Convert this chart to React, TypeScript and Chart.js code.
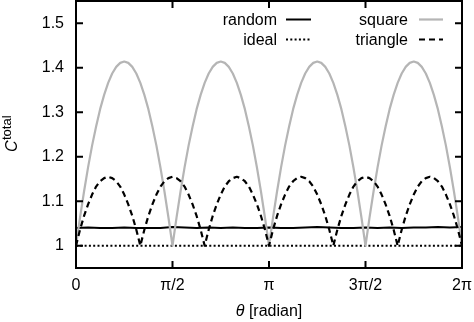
import { useEffect, useRef } from "react";
import { Chart, registerables } from "chart.js";

Chart.register(...registerables);

// ---------- data ----------
const X_TICK_VALUES = [0, Math.PI / 2, Math.PI, (3 * Math.PI) / 2, 2 * Math.PI];
const X_TICK_LABELS = ["0", "π/2", "π", "3π/2", "2π"];
const Y_TICK_VALUES = [1, 1.1, 1.2, 1.3, 1.4, 1.5];
const Y_TICK_LABELS = ["1", "1.1", "1.2", "1.3", "1.4", "1.5"];

const SERIES_LABELS = ["random", "ideal", "square", "triangle"];

// sample spacing (radian) of the square / triangle curves and of the random curve
const FINE_STEP = Math.PI / 48;
const RANDOM_STEP = Math.PI / 16;

const SQUARE = [
  1.000, 1.063, 1.122, 1.176, 1.225, 1.268, 1.307, 1.339, 1.366, 1.387, 1.402, 1.411,
  1.414, 1.411, 1.402, 1.387, 1.366, 1.339, 1.307, 1.268, 1.225, 1.176, 1.122, 1.063,
  1.000, 1.063, 1.122, 1.176, 1.225, 1.268, 1.307, 1.339, 1.366, 1.387, 1.402, 1.411,
  1.414, 1.411, 1.402, 1.387, 1.366, 1.339, 1.307, 1.268, 1.225, 1.176, 1.122, 1.063,
  1.000, 1.063, 1.122, 1.176, 1.225, 1.268, 1.307, 1.339, 1.366, 1.387, 1.402, 1.411,
  1.414, 1.411, 1.402, 1.387, 1.366, 1.339, 1.307, 1.268, 1.225, 1.176, 1.122, 1.063,
  1.000, 1.063, 1.122, 1.176, 1.225, 1.268, 1.307, 1.339, 1.366, 1.387, 1.402, 1.411,
  1.414, 1.411, 1.402, 1.387, 1.366, 1.339, 1.307, 1.268, 1.225, 1.176, 1.122, 1.063,
  1.000,
];

const TRIANGLE = [
  1.000, 1.036, 1.067, 1.093, 1.115, 1.133, 1.145, 1.152, 1.155, 1.152, 1.145, 1.133, 1.115, 1.093, 1.067, 1.036,
  1.000, 1.036, 1.067, 1.093, 1.115, 1.133, 1.145, 1.152, 1.155, 1.152, 1.145, 1.133, 1.115, 1.093, 1.067, 1.036,
  1.000, 1.036, 1.067, 1.093, 1.115, 1.133, 1.145, 1.152, 1.155, 1.152, 1.145, 1.133, 1.115, 1.093, 1.067, 1.036,
  1.000, 1.036, 1.067, 1.093, 1.115, 1.133, 1.145, 1.152, 1.155, 1.152, 1.145, 1.133, 1.115, 1.093, 1.067, 1.036,
  1.000, 1.036, 1.067, 1.093, 1.115, 1.133, 1.145, 1.152, 1.155, 1.152, 1.145, 1.133, 1.115, 1.093, 1.067, 1.036,
  1.000, 1.036, 1.067, 1.093, 1.115, 1.133, 1.145, 1.152, 1.155, 1.152, 1.145, 1.133, 1.115, 1.093, 1.067, 1.036,
  1.000,
];

const RANDOM = [
  1.040, 1.041, 1.040, 1.040, 1.041, 1.040, 1.040, 1.040, 1.042, 1.041, 1.040,
  1.041, 1.040, 1.041, 1.040, 1.040, 1.041, 1.040, 1.040, 1.041, 1.042, 1.041,
  1.040, 1.040, 1.041, 1.040, 1.041, 1.040, 1.041, 1.041, 1.042, 1.041, 1.042,
];

const IDEAL_THETA = [0, 2 * Math.PI];
const IDEAL = [1.0, 1.0];

// ---------- styles ----------
const FONT = "'Liberation Sans', Arial, Helvetica, sans-serif";
const GRAY = "#b5b5b5";
const STYLES = [
  { color: "#000", width: 2, dash: [] as number[] },
  { color: "#000", width: 2, dash: [2, 2.3] },
  { color: GRAY, width: 2.2, dash: [] as number[] },
  { color: "#000", width: 2.2, dash: [6, 4] },
];

const gnuplotPlugin = {
  id: "gnuplotDecor",
  afterDatasetsDraw(chart: any) {
    const { ctx, chartArea: a, scales } = chart;
    const xs = scales.x;
    const ys = scales.y;
    ctx.save();
    // frame
    ctx.strokeStyle = "#000";
    ctx.lineWidth = 2;
    ctx.setLineDash([]);
    ctx.strokeRect(a.left, a.top, a.right - a.left, a.bottom - a.top);
    // inward ticks, mirrored
    const tl = 7;
    ctx.lineWidth = 2;
    ctx.beginPath();
    for (const v of Y_TICK_VALUES) {
      const py = ys.getPixelForValue(v);
      ctx.moveTo(a.left, py);
      ctx.lineTo(a.left + tl, py);
      ctx.moveTo(a.right, py);
      ctx.lineTo(a.right - tl, py);
    }
    for (const v of X_TICK_VALUES) {
      const px = xs.getPixelForValue(v);
      ctx.moveTo(px, a.bottom);
      ctx.lineTo(px, a.bottom - tl);
      ctx.moveTo(px, a.top);
      ctx.lineTo(px, a.top + tl);
    }
    ctx.stroke();

    // legend (two columns, text right-aligned, sample to the right)
    ctx.font = `16px ${FONT}`;
    ctx.fillStyle = "#000";
    ctx.textAlign = "right";
    ctx.textBaseline = "middle";
    const cols = [
      { textRight: 277, x0: 286, x1: 311 },
      { textRight: 408, x0: 419, x1: 443 },
    ];
    const rows = [19.5, 39.5];
    SERIES_LABELS.forEach((lab, i) => {
      const c = cols[Math.floor(i / 2)];
      const y = rows[i % 2];
      const st = STYLES[i];
      ctx.fillText(lab, c.textRight, y + 1);
      ctx.beginPath();
      ctx.strokeStyle = st.color;
      ctx.lineWidth = st.width;
      ctx.setLineDash(st.dash);
      ctx.moveTo(c.x0, y);
      ctx.lineTo(c.x1, y);
      ctx.stroke();
    });
    ctx.setLineDash([]);

    // y-axis title: C^total (rotated)
    ctx.save();
    ctx.translate(17, 134);
    ctx.rotate(-Math.PI / 2);
    ctx.textAlign = "left";
    ctx.textBaseline = "alphabetic";
    ctx.font = `italic 16px ${FONT}`;
    const cw = ctx.measureText("C").width;
    ctx.font = `13px ${FONT}`;
    const tw = ctx.measureText("total").width;
    const start = -(cw + tw) / 2;
    ctx.font = `italic 16px ${FONT}`;
    ctx.fillText("C", start, 0);
    ctx.font = `13px ${FONT}`;
    ctx.fillText("total", start + cw + 0.5, -6);
    ctx.restore();

    // x-axis title: θ [radian]
    ctx.textBaseline = "alphabetic";
    ctx.textAlign = "left";
    ctx.font = `italic 16px ${FONT}`;
    const thw = ctx.measureText("θ").width;
    ctx.font = `16px ${FONT}`;
    const rw = ctx.measureText(" [radian]").width;
    const cx = (a.left + a.right) / 2;
    const sx = cx - (thw + rw) / 2;
    ctx.font = `italic 16px ${FONT}`;
    ctx.fillText("θ", sx, 316);
    ctx.font = `16px ${FONT}`;
    ctx.fillText(" [radian]", sx + thw, 316);
    ctx.restore();
  },
};

function toPoints(values: number[], step: number) {
  return values.map((y, i) => ({ x: i * step, y }));
}

export default function App() {
  const canvasRef = useRef<HTMLCanvasElement | null>(null);

  useEffect(() => {
    document.body.style.margin = "0";
    const canvas = canvasRef.current;
    if (!canvas) return;
    const mk = (i: number, data: { x: number; y: number }[], order: number) => ({
      label: SERIES_LABELS[i],
      data,
      borderColor: STYLES[i].color,
      borderWidth: STYLES[i].width,
      borderDash: STYLES[i].dash,
      borderJoinStyle: "round" as const,
      pointRadius: 0,
      tension: 0,
      fill: false,
      order,
    });
    const chart = new Chart(canvas, {
      type: "line",
      data: {
        datasets: [
          mk(0, toPoints(RANDOM, RANDOM_STEP), 4),
          mk(1, IDEAL.map((y, i) => ({ x: IDEAL_THETA[i], y })), 3),
          mk(2, toPoints(SQUARE, FINE_STEP), 2),
          mk(3, toPoints(TRIANGLE, FINE_STEP), 1),
        ] as any,
      },
      options: {
        animation: false,
        responsive: true,
        maintainAspectRatio: false,
        layout: { padding: { top: 1, right: 12, left: 0, bottom: 0 } },
        plugins: { legend: { display: false }, tooltip: { enabled: false } },
        scales: {
          x: {
            type: "linear",
            min: 0,
            max: 2 * Math.PI,
            grid: { display: false, drawTicks: false },
            border: { display: false },
            afterBuildTicks: (s: any) => {
              s.ticks = X_TICK_VALUES.map((v) => ({ value: v }));
            },
            afterFit: (s: any) => {
              s.height = 54;
              s.paddingLeft = 0;
              s.paddingRight = 0;
            },
            ticks: {
              autoSkip: false,
              maxRotation: 0,
              padding: 8,
              color: "#000",
              font: { family: FONT, size: 16 },
              callback: (_v: any, i: number) => X_TICK_LABELS[i],
            },
          },
          y: {
            type: "linear",
            min: 0.95,
            max: 1.55,
            grid: { display: false, drawTicks: false },
            border: { display: false },
            afterBuildTicks: (s: any) => {
              s.ticks = Y_TICK_VALUES.map((v) => ({ value: v }));
            },
            afterFit: (s: any) => {
              s.width = 76;
              s.paddingTop = 0;
              s.paddingBottom = 0;
            },
            ticks: {
              autoSkip: false,
              padding: 12,
              color: "#000",
              font: { family: FONT, size: 16 },
              callback: (_v: any, i: number) => Y_TICK_LABELS[i],
            },
          },
        },
      },
      plugins: [gnuplotPlugin],
    });
    return () => chart.destroy();
  }, []);

  return (
    <div style={{ position: "fixed", left: 0, top: 0, width: 474, height: 322, background: "#fff" }}>
      <canvas ref={canvasRef} />
    </div>
  );
}
